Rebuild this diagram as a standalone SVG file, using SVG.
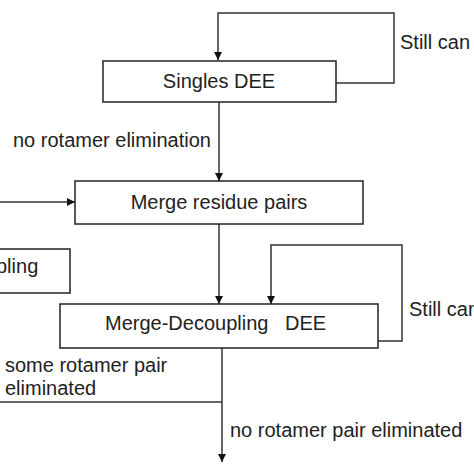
<svg xmlns="http://www.w3.org/2000/svg" width="474" height="474" viewBox="0 0 474 474">
<defs>
<style>
.box{fill:#fff;stroke:#222;stroke-width:1.5}
.ln{fill:none;stroke:#333;stroke-width:1.5}
text{font-family:"Liberation Sans",Arial,sans-serif;font-size:20px;fill:#222}
.c{text-anchor:middle}
</style>
<marker id="ah" viewBox="0 0 10 10" refX="10" refY="5" markerWidth="8" markerHeight="8" markerUnits="userSpaceOnUse" orient="auto">
<path d="M0,0 L10,5 L0,10 Z" fill="#111"/>
</marker>
</defs>
<rect width="474" height="474" fill="#fff"/>
<g id="connectors">
<path class="ln" d="M336,83 H394 V13 H218 V60" marker-end="url(#ah)"/>
<path class="ln" d="M219,102 V181" marker-end="url(#ah)"/>
<path class="ln" d="M0,202 H75" marker-end="url(#ah)"/>
<path class="ln" d="M219,224 V304" marker-end="url(#ah)"/>
<path class="ln" d="M378,341 H402 V245 H271 V304" marker-end="url(#ah)"/>
<path class="ln" d="M222,348 V462" marker-end="url(#ah)"/>
<path class="ln" d="M0,402 H222"/>
<text x="400" y="49">Still can</text>
<text x="13" y="147">no rotamer elimination</text>
<text x="409" y="316">Still can</text>
<text x="5" y="372">some rotamer pair</text>
<text x="5" y="395">eliminated</text>
<text x="230" y="437">no rotamer pair eliminated</text>
</g>
<g id="singles">
<rect class="box" x="103" y="61" width="233" height="41"/>
<text class="c" x="219" y="88">Singles DEE</text>
</g>
<g id="merge">
<rect class="box" x="75" y="181" width="288" height="43"/>
<text class="c" x="219" y="209">Merge residue pairs</text>
</g>
<g id="decoupling">
<rect class="box" x="-10" y="249" width="80" height="44"/>
<text x="-4" y="273">pling</text>
</g>
<g id="mergedecoupling">
<rect class="box" x="60" y="304" width="318" height="44"/>
<text x="105" y="330" xml:space="preserve">Merge-Decoupling   DEE</text>
</g>
</svg>
